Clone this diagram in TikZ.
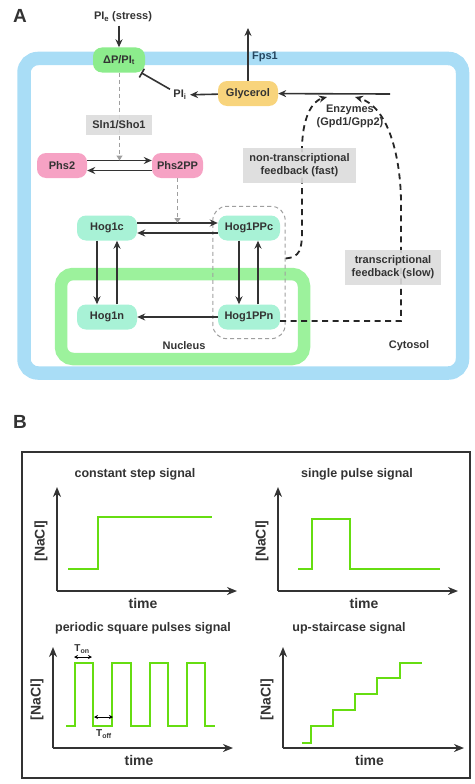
\documentclass[tikz,border=0pt]{standalone}
\usepackage{fontspec}
\setmainfont{Liberation Sans}
\usetikzlibrary{arrows.meta,calc,fit}

\definecolor{membrane}{HTML}{A9DDF6}
\definecolor{nucleus}{HTML}{9CF29C}
\definecolor{hogcol}{HTML}{A8F2D6}
\definecolor{phscol}{HTML}{F6A2C4}
\definecolor{glycol}{HTML}{F8D47C}
\definecolor{turgcol}{HTML}{8CEC8C}
\definecolor{boxgray}{HTML}{DCDCDC}
\definecolor{txt}{HTML}{333333}
\definecolor{stimgreen}{HTML}{66DD11}
\definecolor{fpscol}{HTML}{264660}

\begin{document}
\begin{tikzpicture}[x=1pt, y=-1pt,
  every node/.style={font=\bfseries\fontsize{11}{13}\selectfont, text=txt},
  species/.style={rounded corners=9pt, minimum width=#1, minimum height=25pt, inner sep=2pt},
  species/.default=60pt,
  react/.style={draw=txt, line width=1.6pt, -{Stealth[length=8pt, width=7pt]}},
  inhib/.style={draw=txt, line width=1.6pt, -{Bar[width=10pt]}},
  signalarrow/.style={draw=gray!75, line width=1.2pt, dash pattern=on 4pt off 3pt, -{Triangle[length=5pt, width=6pt]}},
  feedback/.style={draw=black!85, line width=1.8pt, dash pattern=on 6pt off 4.5pt, -{Stealth[length=8pt, width=7pt]}},
  gbox/.style={fill=boxgray, fill opacity=.9, text opacity=1, inner xsep=6.5pt, inner ysep=6pt, align=center},
  plotaxis/.style={draw=txt, line width=2pt, -{Stealth[length=10pt, width=8pt]}},
  stim/.style={draw=stimgreen, line width=2.8pt},
  spanarrow/.style={draw=black, line width=0.9pt, {Stealth[length=4pt, width=4pt]}-{Stealth[length=4pt, width=4pt]}},
  panel/.style={font=\bfseries\fontsize{19}{20}\selectfont},
  plottitle/.style={font=\bfseries\fontsize{12.5}{14}\selectfont},
  axlabel/.style={font=\bfseries\fontsize{14}{16}\selectfont}
]
\useasboundingbox (0,0) rectangle (474,784);

%%%%% Panel A %%%%%
\node[panel] (labA) at (20,16) {A};

% Cell membrane and nucleus
\draw[membrane, line width=13.5pt, rounded corners=14pt] (24,58.5) rectangle (462.5,373);
\draw[nucleus, line width=12.5pt, rounded corners=12pt] (61,274) rectangle (304,359);
\node (nuc) at (184,346) {Nucleus};
\node (cyt) at (409,346) {Cytosol};

% Species
\node[species=52pt, fill=turgcol] (turgor) at (119,60) {ΔP/PI\textsubscript{t}};
\node[species=60pt, fill=glycol] (glycerol) at (248,93.5) {Glycerol};
\node[species=50pt, fill=phscol] (phs2) at (62,165.5) {Phs2};
\node[species=51pt, fill=phscol] (phs2pp) at (177.5,165.5) {Phs2PP};
\node[species=60pt, fill=hogcol] (hog1c) at (107,228) {Hog1c};
\node[species=62pt, fill=hogcol] (hog1ppc) at (249,228) {Hog1PPc};
\node[species=60pt, fill=hogcol] (hog1n) at (107,317) {Hog1n};
\node[species=62pt, fill=hogcol] (hog1ppn) at (249,317) {Hog1PPn};
\node[draw=gray!75, line width=1pt, dash pattern=on 4pt off 3pt, rounded corners=14pt,
  fit=(hog1ppc)(hog1ppn), inner xsep=5pt, inner ysep=9pt] (ppbox) {};

% Pressure and glycerol
\node (pie) at (123,17) {PI\textsubscript{e} (stress)};
\node (pii) at (180,95) {PI\textsubscript{i}};
\node[text=fpscol] (fps) at (265,57) {Fps1};
\node[align=center] (enz) at (350,116) {Enzymes\\(Gpd1/Gpp2)};
\coordinate (gin) at (390,94);
\coordinate (fpsout) at (248,28);
\draw[react] (pie.south -| turgor) -- (turgor);
\draw[react] (glycerol) -- (pii);
\draw[inhib] (pii) -- (turgor);
\draw[react] (gin) -- (glycerol);
\draw[react] (glycerol) -- (fpsout);

% Phosphorylation cycles
\draw[react] ([yshift=5pt]phs2.east) -- ([yshift=5pt]phs2pp.west);
\draw[react] ([yshift=-5pt]phs2pp.west) -- ([yshift=-5pt]phs2.east);
\draw[react] ([yshift=5pt]hog1c.east) -- ([yshift=5pt]hog1ppc.west);
\draw[react] ([yshift=-5pt]hog1ppc.west) -- ([yshift=-5pt]hog1c.east);
\draw[react] ([xshift=-10pt]hog1c.south) -- ([xshift=-10pt]hog1n.north);
\draw[react] ([xshift=10pt]hog1n.north) -- ([xshift=10pt]hog1c.south);
\draw[react] ([xshift=-10pt]hog1ppc.south) -- ([xshift=-10pt]hog1ppn.north);
\draw[react] ([xshift=9pt]hog1ppn.north) -- ([xshift=9pt]hog1ppc.south);
\draw[react, line width=1.2pt] (hog1ppn.west) -- (hog1n.east);

% Signalling (dashed grey)
\coordinate (phsact) at ($(phs2.east)!.5!(phs2pp.west)+(0,-5)$);
\coordinate (hogact) at ($(hog1c.east)!.5!(hog1ppc.west)+(0,-5)$);
\draw[signalarrow] (turgor.south -| phsact) -- (phsact);
\draw[signalarrow] (phs2pp.south -| hogact) -- (hogact);
\node[gbox] (sln) at (119,125) {Sln1/Sho1};

% Feedback loops
\coordinate (fbfast) at (327,97);
\coordinate (fbslow) at (355,97);
\draw[feedback] ($(ppbox.east)+(0,-14)$) .. controls (300,257) and (302,250) .. (302,230)
  -- (302,150) .. controls (302,118) and (312,101) .. (fbfast);
\draw[feedback] ([yshift=-4pt]hog1ppn.east) -| (401,200)
  .. controls (400,150) and (386,106) .. (fbslow);
\node[gbox] (fast) at (299.5,165.5) {non-transcriptional\\feedback (fast)};
\node[gbox] (slow) at (393,267.5) {transcriptional\\feedback (slow)};

%%%%% Panel B %%%%%
\node[panel] (labB) at (20,422) {B};
\draw[txt, line width=1.4pt] (22,452) rectangle (470,778);

% Axes, titles and axis labels
\foreach \ox/\oy/\xe/\yt/\tx/\ty/\ttl [count=\i] in {
    57/591/237/487/135/474/constant step signal,
    278/591/458/487/357/474/single pulse signal,
    53/748/233/647/143/628/periodic square pulses signal,
    283/748/464/647/349/628/up-staircase signal} {
  \draw[plotaxis] (\ox,\oy) -- (\ox,\yt);
  \draw[plotaxis] (\ox,\oy) -- (\xe,\oy);
  \node[plottitle] (title\i) at (\tx,\ty) {\ttl};
  \node[axlabel] (time\i) at ({(\ox+\xe)/2-4},\oy+12) {time};
  \node[axlabel, rotate=90] (nacl\i) at (\ox-16,{(\oy+\yt)/2+2}) {[NaCl]};
}

% Signals
\draw[stim] (68,569) -| (98,517) -- (212,517);
\draw[stim] (298,569) -| (312,519) -| (350,569) -- (440,569);
\draw[stim] (66,726) -| (75,663) -| (93,726) -| (112,663) -| (131,726)
  -| (150,663) -| (168,726) -| (187,663) -| (205,726) -- (215,726);
\draw[stim] (302,743) -| (311,726) -| (333,710) -| (355,694) -| (377,678) -| (400,663) -- (422,663);

% Pulse widths
\coordinate (onL) at (74,657);
\coordinate (onR) at (92,657);
\coordinate (offL) at (94,717);
\coordinate (offR) at (113,717);
\draw[spanarrow] (onL) -- (onR);
\draw[spanarrow] (offL) -- (offR);
\node[font=\bfseries\fontsize{10}{12}\selectfont] (ton) at (82,649) {T\textsubscript{on}};
\node[font=\bfseries\fontsize{10}{12}\selectfont] (toff) at (104,734) {T\textsubscript{off}};

\end{tikzpicture}
\end{document}
